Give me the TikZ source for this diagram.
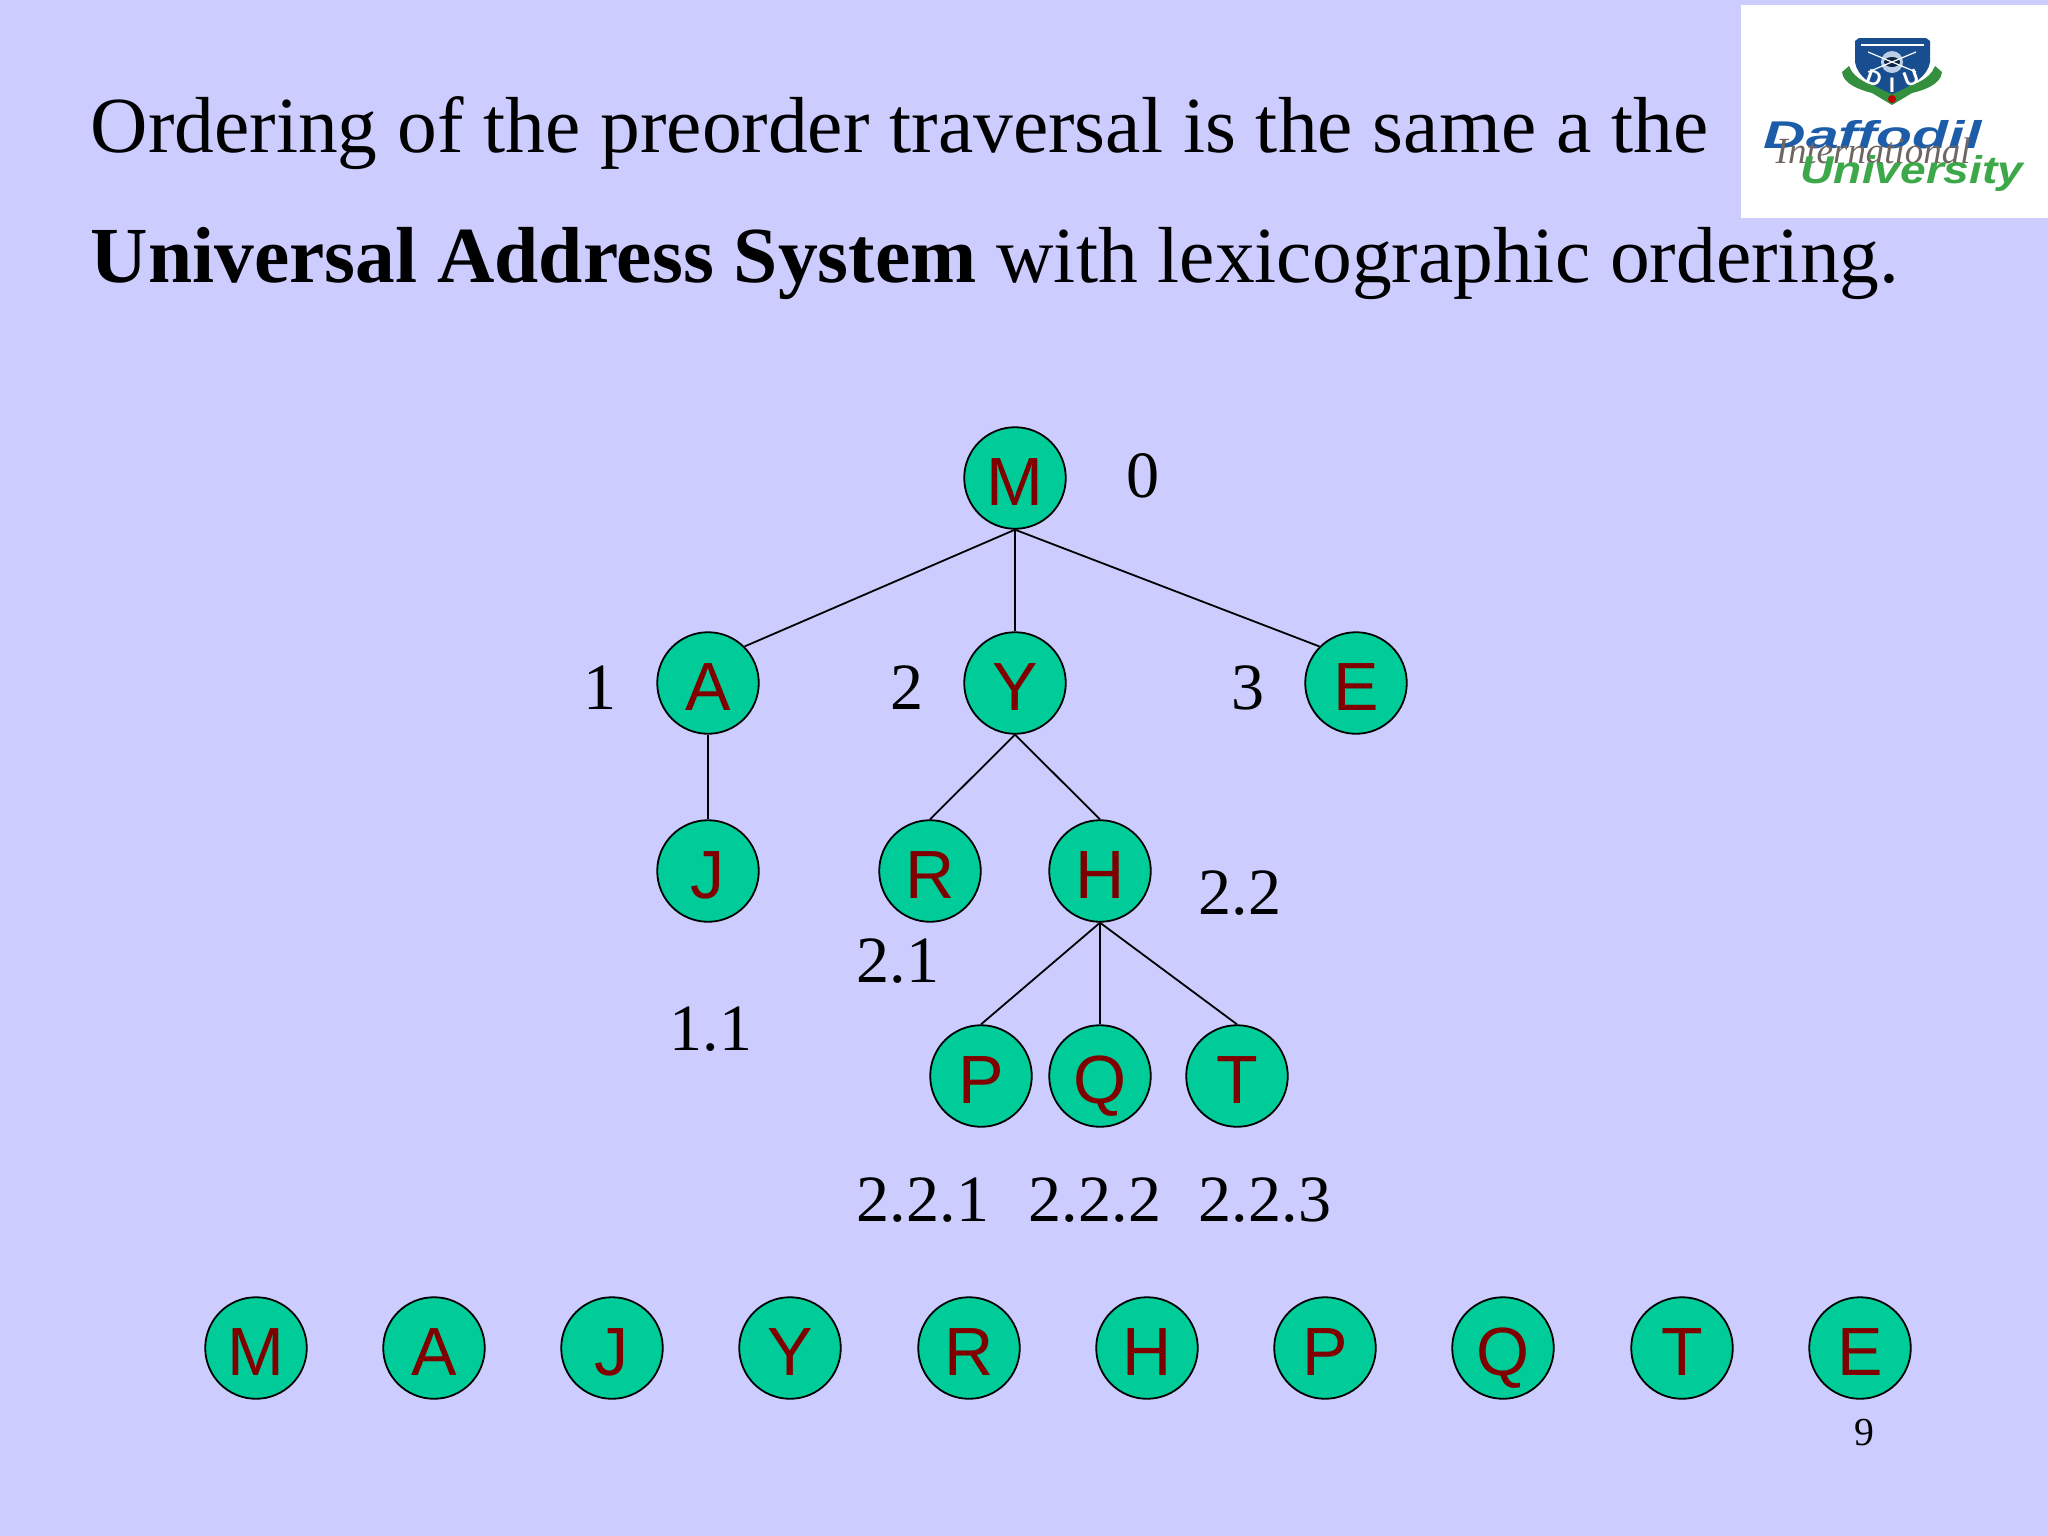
\documentclass[tikz,border=0pt]{standalone}
\usepackage{fontspec}
\setmainfont{Liberation Serif}
\setsansfont{Liberation Sans}
\definecolor{slidebg}{HTML}{CCCCFF}
\definecolor{nodefill}{HTML}{00CC99}
\definecolor{nodetext}{HTML}{800000}
\definecolor{logoblue}{HTML}{1C5CA8}
\definecolor{logogreen}{HTML}{3DA84A}
\definecolor{logogrey}{HTML}{6E6660}
\tikzset{
  treenode/.style={circle,draw=black,fill=nodefill,line width=0.018cm,minimum size=1.015cm,inner sep=0pt,
    text=nodetext,font=\sffamily\fontsize{19.4}{22}\selectfont,text height=15.5pt,text depth=0pt},
  edge/.style={draw=black,line width=0.018cm},
  addr/.style={inner sep=0pt,font=\fontsize{18.8}{22}\selectfont,text=black},
  titleline/.style={inner sep=0pt,anchor=base west,font=\fontsize{22.6}{27}\selectfont,text=black},
  logotext/.style={inner sep=0pt,anchor=base west,font=\sffamily\bfseries\itshape\fontsize{11}{13}\selectfont},
  diuletter/.style={inner sep=0pt,text=white,font=\sffamily\bfseries\fontsize{6}{7}\selectfont},
}
\begin{document}
\begin{tikzpicture}[x=0.01cm,y=-0.01cm]
\useasboundingbox (0,0) rectangle (2048,1536);
\fill[slidebg] (0,0) rectangle (2048,1536);
% logo
\fill[white] (1741,5) rectangle (2048,218);
\fill[logogreen!85!black] (1842,72) .. controls (1843,84) and (1860,90) .. (1872,93) -- (1892,105) -- (1912,93) .. controls (1925,90) and (1941,84) .. (1942,72) -- (1935,66) .. controls (1930,80) and (1910,88) .. (1892,88) .. controls (1874,88) and (1854,80) .. (1849,66) -- cycle;
\fill[logoblue!85!black] (1855,41) -- (1859,38) -- (1926,38) -- (1930,41) -- (1930,62) .. controls (1928,76) and (1912,86) .. (1892,94) .. controls (1872,86) and (1857,76) .. (1855,62) -- cycle;
\fill[white!70!logoblue] (1892,62) circle (11);
\fill[logoblue!40!black] (1892,62) ellipse (8 and 5);
\draw[white,line width=0.012cm] (1868,52) -- (1916,72) (1916,52) -- (1868,72);
\draw[white,line width=0.012cm] (1861,45) -- (1924,45);
\fill[red!75!black] (1892,99) circle (4);
\node[diuletter,rotate=-20] (diud) at (1874,78) {D};
\node[diuletter] (diui) at (1892,85) {I};
\node[diuletter,rotate=20] (diuu) at (1911,78) {U};
\node[logotext,text=logoblue] (daff) at (1763,148) {\scalebox{1.52}[1]{Daffodil}};
\node[inner sep=0pt,anchor=base west,text=logogrey,font=\itshape\fontsize{10.5}{12}\selectfont] (intl) at (1775,163) {International};
\node[logotext,text=logogreen] (univ) at (1800,183) {\scalebox{1.19}[1]{University}};
% title
\node[titleline] (t1) at (90,152) {Ordering of the preorder traversal is the same a the};
\node[titleline] (t2) at (90,282) {\textbf{Universal Address System} with lexicographic ordering.};
% tree
\node[treenode] (M) at (1015,478) {M};
\node[treenode] (A) at (708,683) {A};
\node[treenode] (Y) at (1015,683) {Y};
\node[treenode] (E) at (1356,683) {E};
\node[treenode] (J) at (708,871) {J};
\node[treenode] (R) at (930,871) {R};
\node[treenode] (H) at (1100,871) {H};
\node[treenode] (P) at (981,1076) {P};
\node[treenode] (Q) at (1100,1076) {Q};
\node[treenode] (T) at (1237,1076) {T};
\path[edge] (M.south) -- (A.45);
\path[edge] (M.south) -- (Y.north);
\path[edge] (M.south) -- (E.135);
\path[edge] (A.south) -- (J.north);
\path[edge] (Y.south) -- (R.north);
\path[edge] (Y.south) -- (H.north);
\path[edge] (H.south) -- (P.north);
\path[edge] (H.south) -- (Q.north);
\path[edge] (H.south) -- (T.north);
% addresses
\node[addr] (a0) at (1143,476) {0};
\node[addr] (a1) at (600,688) {1};
\node[addr] (a2) at (907,688) {2};
\node[addr] (a3) at (1248,688) {3};
\node[addr] (a22) at (1240,893) {2.2};
\node[addr] (a21) at (898,961) {2.1};
\node[addr] (a11) at (711,1029) {1.1};
\node[addr] (a221) at (923,1200) {2.2.1};
\node[addr] (a222) at (1095,1200) {2.2.2};
\node[addr] (a223) at (1265,1200) {2.2.3};
% sequence
\node[treenode] (s1) at (256,1348) {M};
\node[treenode] (s2) at (434,1348) {A};
\node[treenode] (s3) at (612,1348) {J};
\node[treenode] (s4) at (790,1348) {Y};
\node[treenode] (s5) at (969,1348) {R};
\node[treenode] (s6) at (1147,1348) {H};
\node[treenode] (s7) at (1325,1348) {P};
\node[treenode] (s8) at (1503,1348) {Q};
\node[treenode] (s9) at (1682,1348) {T};
\node[treenode] (s10) at (1860,1348) {E};
\node[inner sep=0pt,font=\fontsize{11.3}{13}\selectfont] (pg) at (1864,1433) {9};
\end{tikzpicture}
\end{document}
